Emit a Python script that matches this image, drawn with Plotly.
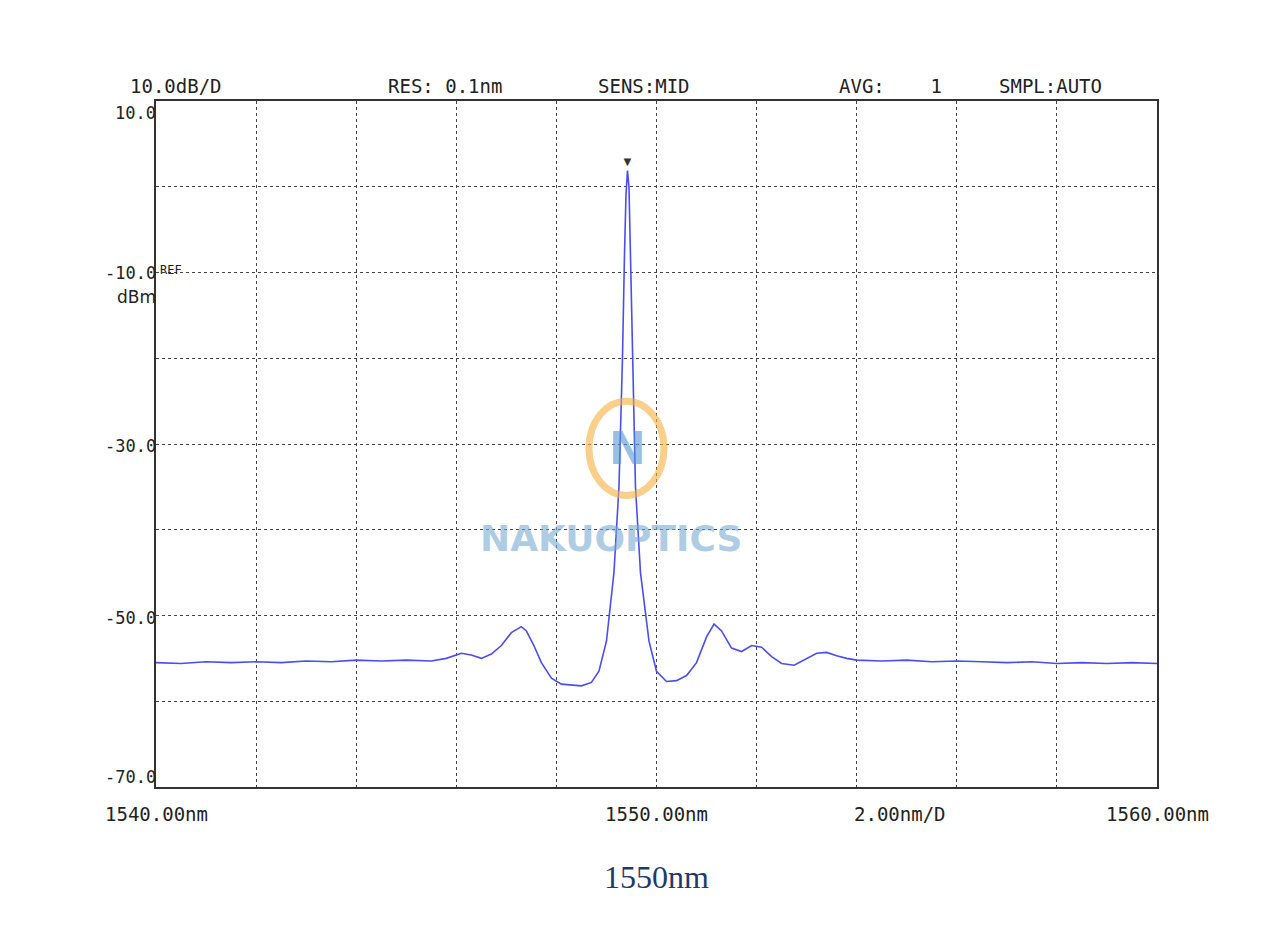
import plotly.graph_objects as go

wavelength = [1540.0, 1540.5, 1541.0, 1541.5, 1542.0, 1542.5, 1543.0, 1543.5, 1544.0, 1544.5, 1545.0, 1545.5,
              1545.8, 1546.1, 1546.3, 1546.5, 1546.7, 1546.9, 1547.1, 1547.3, 1547.4, 1547.55, 1547.7, 1547.9,
              1548.1, 1548.3, 1548.5, 1548.7, 1548.85, 1549.0, 1549.15, 1549.25, 1549.32, 1549.36, 1549.39,
              1549.42, 1549.45, 1549.48, 1549.52, 1549.58, 1549.68, 1549.85, 1550.0, 1550.2, 1550.4, 1550.6,
              1550.8, 1551.0, 1551.15, 1551.3, 1551.5, 1551.7, 1551.9, 1552.1, 1552.3, 1552.5, 1552.75, 1553.0,
              1553.2, 1553.4, 1553.6, 1553.8, 1554.0, 1554.5, 1555.0, 1555.5, 1556.0, 1556.5, 1557.0, 1557.5,
              1558.0, 1558.5, 1559.0, 1559.5, 1560.0]
power_dbm = [-55.5, -55.6, -55.4, -55.5, -55.4, -55.5, -55.3, -55.4, -55.2, -55.3, -55.2, -55.3,
             -55.0, -54.4, -54.6, -55.0, -54.5, -53.5, -52.0, -51.3, -51.8, -53.5, -55.5, -57.3,
             -58.0, -58.1, -58.2, -57.8, -56.5, -53.0, -45.0, -35.0, -20.0, -8.0, -1.0,
             1.9, 0.0, -8.0, -20.0, -35.0, -45.0, -53.0, -56.5, -57.7, -57.6, -57.0,
             -55.5, -52.5, -51.0, -51.8, -53.8, -54.2, -53.5, -53.7, -54.8, -55.6, -55.8, -55.0,
             -54.4, -54.3, -54.7, -55.0, -55.2, -55.3, -55.2, -55.4, -55.3, -55.4, -55.5, -55.4,
             -55.6, -55.5, -55.6, -55.5, -55.6]

y_ticks = [10, -10, -30, -50, -70]
y_tick_text = ["10.0", "-10.0", "-30.0", "-50.0", "-70.0"]
y_label_shift = [-12, 0, -2, -2, 10]
x_ticks = [1540, 1550, 1554, 1560]
x_tick_text = ["1540.00nm", "1550.00nm", "2.00nm/D", "1560.00nm"]
header = ["10.0dB/D", "RES: 0.1nm", "SENS:MID", "AVG:    1", "SMPL:AUTO"]
header_x = [0.0, 0.23, 0.44, 0.68, 0.84]
peak_wl = 1549.42
peak_db = 1.9

mono = "DejaVu Sans Mono"
fig = go.Figure()
fig.add_trace(go.Scatter(x=wavelength, y=power_dbm, mode="lines",
                         line=dict(color="#4a4ef0", width=1.6), hoverinfo="skip"))

grid = dict(showgrid=True, gridcolor="#444", griddash="dot", gridwidth=1)
fig.update_layout(
    width=1280, height=951, paper_bgcolor="white", plot_bgcolor="white",
    margin=dict(l=148, r=131, t=93, b=172), showlegend=False,
    xaxis=dict(range=[1540, 1560], dtick=2, tick0=1540, **grid, showline=True, linecolor="#333",
               linewidth=2, mirror=True, zeroline=False, ticks="", showticklabels=False),
    yaxis=dict(range=[-70, 10], dtick=10, tick0=-70, **grid, showline=True, linecolor="#333",
               linewidth=2, mirror=True, zeroline=False, ticks="", showticklabels=False),
)
for v, t, s in zip(y_ticks, y_tick_text, y_label_shift):
    fig.add_annotation(x=0, xref="paper", y=v, yref="y", text=t, showarrow=False,
                       xanchor="right", yanchor="middle", xshift=2, yshift=s,
                       font=dict(family=mono, size=17, color="#222"))
fig.add_annotation(x=0, xref="paper", y=-10, yref="y", text="REF", showarrow=False,
                   xanchor="left", yanchor="middle", xshift=2, yshift=3,
                   font=dict(family=mono, size=12, color="#222"))
fig.add_annotation(x=0, xref="paper", y=-10, yref="y", text="dBm", showarrow=False,
                   xanchor="right", yanchor="middle", xshift=2, yshift=-24,
                   font=dict(family="DejaVu Sans", size=17, color="#222"))
anchors = ["center", "center", "left", "center"]
for v, t, a in zip(x_ticks, x_tick_text, anchors):
    fig.add_annotation(x=v, xref="x", y=0, yref="paper", text=t, showarrow=False,
                       xanchor=a, yanchor="top", yshift=-14,
                       xshift=-5 if a == "left" else 0,
                       font=dict(family=mono, size=19, color="#222"))
for hx, t in zip(header_x, header):
    fig.add_annotation(x=hx, xref="paper", y=1, yref="paper", text=t, showarrow=False,
                       xanchor="left", yanchor="bottom", xshift=-28 if hx == 0 else 0, yshift=2,
                       font=dict(family=mono, size=19, color="#222"))
fig.add_annotation(x=peak_wl, y=peak_db, text="▼", showarrow=False, yanchor="bottom", yshift=-2,
                   font=dict(size=13, color="#333"))
fig.add_annotation(x=0.5, xref="paper", y=-0.16, yref="paper", text="1550nm", showarrow=False,
                   font=dict(family="Liberation Serif", size=32, color="#1f3a6a"))
fig.add_annotation(x=1549.1, y=-41, text="<b>NAKUOPTICS</b>", showarrow=False,
                   font=dict(family="DejaVu Sans", size=36, color="rgba(120,170,210,0.6)"))
fig.add_shape(type="circle", xref="x", yref="y", x0=1548.65, x1=1550.15, y0=-36, y1=-25,
              line=dict(color="rgba(245,175,60,0.6)", width=7))
fig.add_annotation(x=1549.42, y=-30.5, text="<b>N</b>", showarrow=False,
                   font=dict(family="DejaVu Sans", size=44, color="rgba(80,150,210,0.6)"))
fig.write_html("out.html")
